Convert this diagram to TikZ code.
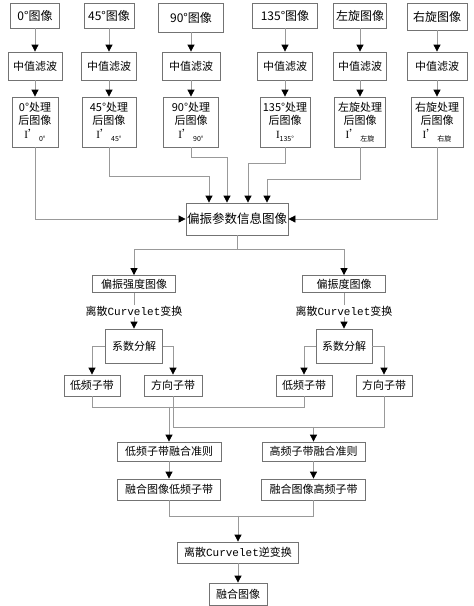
\documentclass[tikz,border=0pt]{standalone}
\usepackage{fontspec}
\setmainfont{Noto Sans CJK SC}
\newfontfamily\curvefont{Liberation Mono}
\newfontfamily\serifI{Liberation Serif}
\usetikzlibrary{arrows.meta,positioning,calc}
\newcommand{\Isub}[1]{\raisebox{-0.6ex}{\fontsize{7}{7}\selectfont #1}}

\begin{document}
\begin{tikzpicture}[x=1pt, y=-1pt,
  box/.style={rectangle, draw=black!55, line width=0.8pt, inner sep=1pt, align=center, font=\fontsize{11}{13.5}\selectfont},
  arr/.style={-{Triangle[length=7pt,width=7pt,color=black]}, draw=black!40, line width=0.8pt},
  link/.style={draw=black!40, line width=0.8pt},
  lbl/.style={inner sep=1pt, font=\fontsize{11}{13}\selectfont}
]
\useasboundingbox (0,0) rectangle (474,606);

% Input images
\node[box, minimum width=49pt, minimum height=25pt, font=\fontsize{12}{14}\selectfont] (img0) at (35,15.5) {0°图像};
\node[box, minimum width=50pt, minimum height=25pt, font=\fontsize{12}{14}\selectfont] (img1) at (109,15.5) {45°图像};
\node[box, minimum width=65pt, minimum height=29pt, font=\fontsize{12}{14}\selectfont] (img2) at (191,17.5) {90°图像};
\node[box, minimum width=65pt, minimum height=25pt, font=\fontsize{12}{14}\selectfont] (img3) at (285,15.5) {135°图像};
\node[box, minimum width=53pt, minimum height=25pt, font=\fontsize{12}{14}\selectfont] (img4) at (360,15.5) {左旋图像};
\node[box, minimum width=60pt, minimum height=27pt, font=\fontsize{12}{14}\selectfont] (img5) at (437,16.5) {右旋图像};

% Median filtering
\node[box, minimum width=54pt, minimum height=28pt] (filt0) at (35,66) {中值滤波};
\node[box, minimum width=55pt, minimum height=28pt] (filt1) at (109,66) {中值滤波};
\node[box, minimum width=58pt, minimum height=28pt] (filt2) at (191,66) {中值滤波};
\node[box, minimum width=55pt, minimum height=28pt] (filt3) at (285,66) {中值滤波};
\node[box, minimum width=53pt, minimum height=28pt] (filt4) at (360,66) {中值滤波};
\node[box, minimum width=60pt, minimum height=28pt] (filt5) at (437,66) {中值滤波};
\foreach \i in {0,...,5}{
  \draw[arr] (img\i) -- (filt\i);
}

% Processed images
\node[box, minimum width=46pt, minimum height=50pt] (proc0) at (35,122) {0°处理\\后图像\\{\serifI I}’\Isub{0°}};
\node[box, minimum width=54pt, minimum height=50pt] (proc1) at (109,122) {45°处理\\后图像\\{\serifI I}’\Isub{45°}};
\node[box, minimum width=55pt, minimum height=50pt] (proc2) at (191,122) {90°处理\\后图像\\{\serifI I}’\Isub{90°}};
\node[box, minimum width=50pt, minimum height=50pt] (proc3) at (285,122) {135°处理\\后图像\\{\serifI I}\Isub{135°}};
\node[box, minimum width=51pt, minimum height=50pt] (proc4) at (360,122) {左旋处理\\后图像\\{\serifI I}’\Isub{左旋}};
\node[box, minimum width=52pt, minimum height=50pt] (proc5) at (437,122) {右旋处理\\后图像\\{\serifI I}’\Isub{右旋}};
\foreach \i in {0,...,5}{
  \draw[arr] (filt\i) -- (proc\i);
}

% Polarization parameter image
\node[box, minimum width=102pt, minimum height=32pt, font=\fontsize{12.5}{14}\selectfont] (pinfo) at (237,219) {偏振参数信息图像};
\coordinate (in1) at (209,176);
\coordinate (in2) at (227,157);
\coordinate (in3) at (248,163);
\coordinate (in4) at (267,179);
\draw[arr] (proc0.south) |- (pinfo.west);
\draw[arr] (proc5.south) |- (pinfo.east);
\draw[arr] (proc1.south) |- (in1) -- (in1 |- pinfo.north);
\draw[arr] (proc2.south) |- (in2) -- (in2 |- pinfo.north);
\draw[arr] (proc3.south) |- (in3) -- (in3 |- pinfo.north);
\draw[arr] (proc4.south) |- (in4) -- (in4 |- pinfo.north);

% Two branches
\node[box, minimum width=83pt, minimum height=17pt] (pint) at (134,284) {偏振强度图像};
\node[box, minimum width=83pt, minimum height=17pt] (pdeg) at (344,284) {偏振度图像};
\draw[arr] (pinfo.south) -- ++(0,14) -| (pint.north);
\draw[arr] (pinfo.south) -- ++(0,14) -| (pdeg.north);

\node[lbl] (dct1) at (134,311) {离散{\curvefont Curvelet}变换};
\node[lbl] (dct2) at (344,311) {离散{\curvefont Curvelet}变换};
\node[box, minimum width=57pt, minimum height=34pt] (coef1) at (134,346) {系数分解};
\node[box, minimum width=56pt, minimum height=34pt] (coef2) at (344,346) {系数分解};
\draw[link] (pint) -- (dct1);
\draw[link] (pdeg) -- (dct2);
\draw[arr] (dct1) -- (coef1);
\draw[arr] (dct2) -- (coef2);

% Sub-bands
\node[box, minimum width=56pt, minimum height=21pt] (low1) at (92,385.5) {低频子带};
\node[box, minimum width=58pt, minimum height=21pt] (dir1) at (173,385.5) {方向子带};
\node[box, minimum width=56pt, minimum height=21pt] (low2) at (304,385.5) {低频子带};
\node[box, minimum width=56pt, minimum height=21pt] (dir2) at (384,385.5) {方向子带};
\draw[arr] (coef1.west) -| (low1.north);
\draw[arr] (coef1.east) -| (dir1.north);
\draw[arr] (coef2.west) -| (low2.north);
\draw[arr] (coef2.east) -| (dir2.north);

% Fusion rules
\node[box, minimum width=104pt, minimum height=19pt] (lowrule) at (169,451.5) {低频子带融合准则};
\node[box, minimum width=103pt, minimum height=19pt] (highrule) at (313.5,451.5) {高频子带融合准则};
\draw[link] (low1.south) -- ++(0,11) -| (low2.south);
\draw[link] (dir1.south) -- ++(0,31) -| (dir2.south);
\draw[arr] ([shift={(0,-35)}]lowrule.north) -- (lowrule.north);
\draw[arr] ([shift={(0,-15)}]highrule.north) -- (highrule.north);

\node[box, minimum width=103pt, minimum height=21pt] (lowfused) at (169,489.5) {融合图像低频子带};
\node[box, minimum width=104pt, minimum height=21pt] (highfused) at (313.5,489.5) {融合图像高频子带};
\draw[arr] (lowrule) -- (lowfused);
\draw[arr] (highrule) -- (highfused);

% Reconstruction
\node[box, minimum width=121pt, minimum height=21pt] (inv) at (238,552.5) {离散{\curvefont Curvelet}逆变换};
\node[box, minimum width=58pt, minimum height=22pt] (fused) at (238,594) {融合图像};
\draw[link] (lowfused.south) -- ++(0,16) -| (highfused.south);
\draw[arr] ([shift={(0,-26)}]inv.north) -- (inv.north);
\draw[arr] (inv) -- (fused);

\end{tikzpicture}
\end{document}
